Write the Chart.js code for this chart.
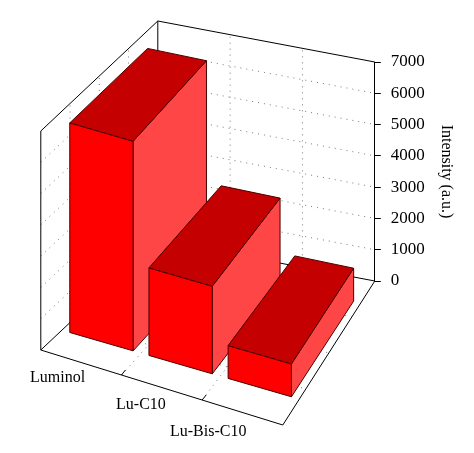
<!DOCTYPE html>
<html>
<head>
<meta charset="utf-8">
<script src="https://cdn.jsdelivr.net/npm/chart.js@4"></script>
<style>
  body { margin: 0; background: #fff; }
</style>
</head>
<body>
<canvas id="chart" width="474" height="453"></canvas>
<script>
const categories = ['Luminol', 'Lu-C10', 'Lu-Bis-C10'];
const intensity = [6700, 2800, 1050];
const yTicksMax = 7000;
const yTickStep = 1000;

// floor corners relative to back-right corner (= chart area bottom-right)
const floorFront0 = [-334, 69];
const floorFront1 = [-92, 144];
const floorBack0 = [-217, -41];
const barDepth = [0.18, 0.85];

function project(ca, ys, u, w, v) {
  const bx = ca.right, by = ca.bottom;
  const f0 = [bx + floorFront0[0], by + floorFront0[1]];
  const f1 = [bx + floorFront1[0], by + floorFront1[1]];
  const b0 = [bx + floorBack0[0], by + floorBack0[1]];
  const b1 = [bx, by];
  const x = (1-u)*(1-w)*f0[0] + u*(1-w)*f1[0] + u*w*b1[0] + (1-u)*w*b0[0];
  const y = (1-u)*(1-w)*f0[1] + u*(1-w)*f1[1] + u*w*b1[1] + (1-u)*w*b0[1];
  return [x, y - (ys.bottom - ys.getPixelForValue(v))];
}

function poly(ctx, pts, fill, stroke) {
  ctx.beginPath();
  ctx.moveTo(pts[0][0], pts[0][1]);
  for (let i = 1; i < pts.length; i++) ctx.lineTo(pts[i][0], pts[i][1]);
  ctx.closePath();
  if (fill) { ctx.fillStyle = fill; ctx.fill(); }
  if (stroke) { ctx.strokeStyle = stroke; ctx.stroke(); }
}

function line(ctx, a, b) {
  ctx.beginPath();
  ctx.moveTo(a[0], a[1]);
  ctx.lineTo(b[0], b[1]);
  ctx.stroke();
}

const box3d = {
  id: 'box3d',
  beforeDatasetsDraw(chart) {
    const ctx = chart.ctx, ca = chart.chartArea, ys = chart.scales.y;
    const P = (u, w, v) => project(ca, ys, u, w, v);
    ctx.save();
    // dotted grid
    ctx.strokeStyle = '#777';
    ctx.lineWidth = 1;
    ctx.setLineDash([1, 5]);
    for (let v = yTickStep; v <= yTicksMax - yTickStep; v += yTickStep) {
      line(ctx, P(0, 1, v), P(1, 1, v));
      line(ctx, P(0, 0, v), P(0, 1, v));
    }
    const n = categories.length;
    for (let i = 1; i < n; i++) {
      const u = i / n;
      line(ctx, P(u, 1, 0), P(u, 1, yTicksMax));
      line(ctx, P(u, 0, 0), P(u, 1, 0));
    }
    for (const w of [0.25, 0.5, 0.75]) {
      line(ctx, P(0, w, 0), P(0, w, yTicksMax));
      line(ctx, P(0, w, 0), P(1, w, 0));
    }
    // solid frame
    ctx.setLineDash([]);
    ctx.strokeStyle = '#000';
    line(ctx, P(0, 0, 0), P(1, 0, 0));
    line(ctx, P(1, 0, 0), P(1, 1, 0));
    line(ctx, P(0, 1, 0), P(1, 1, 0));
    line(ctx, P(0, 0, 0), P(0, 1, 0));
    line(ctx, P(0, 0, 0), P(0, 0, yTicksMax));
    line(ctx, P(0, 1, 0), P(0, 1, yTicksMax));
    line(ctx, P(0, 0, yTicksMax), P(0, 1, yTicksMax));
    line(ctx, P(0, 1, yTicksMax), P(1, 1, yTicksMax));
    for (let i = 1; i < n; i++) {
      const a = P(i / n, 0, 0);
      line(ctx, a, [a[0] + 4, a[1] - 5]);
    }
    // bars
    ctx.lineWidth = 1;
    intensity.forEach((val, i) => {
      const u0 = (i + 0.1) / n, u1 = (i + 0.9) / n;
      const [w0, w1] = barDepth;
      const edge = '#4a0000';
      poly(ctx, [P(u1, w0, 0), P(u1, w1, 0), P(u1, w1, val), P(u1, w0, val)], '#ff4646', edge);
      poly(ctx, [P(u0, w0, 0), P(u1, w0, 0), P(u1, w0, val), P(u0, w0, val)], '#ff0000', edge);
      poly(ctx, [P(u0, w0, val), P(u1, w0, val), P(u1, w1, val), P(u0, w1, val)], '#c40000', edge);
    });
    // category labels
    ctx.fillStyle = '#000';
    ctx.font = '16px "Liberation Serif"';
    ctx.textAlign = 'right';
    ctx.textBaseline = 'middle';
    categories.forEach((c, i) => {
      const p = P((i + 0.5) / n, 0, 0);
      ctx.fillText(c, p[0] + 4, p[1] + 15 + 2 * i);
    });
    ctx.restore();
  }
};

new Chart(document.getElementById('chart'), {
  type: 'bar',
  data: {
    labels: categories,
    datasets: [{ data: intensity, backgroundColor: 'rgba(0,0,0,0)' }]
  },
  options: {
    responsive: false,
    animation: false,
    layout: { padding: { top: 62, right: 16, bottom: 172, left: 10 } },
    plugins: { legend: { display: false }, tooltip: { enabled: false } },
    scales: {
      x: { display: false },
      y: {
        position: 'right',
        min: 0,
        max: yTicksMax,
        ticks: { stepSize: yTickStep, color: '#000', padding: 10, callback: v => String(v), font: { family: 'Liberation Serif', size: 17 } },
        grid: { drawOnChartArea: false, color: '#000', tickLength: 6 },
        border: { color: '#000' },
        title: { display: true, text: 'Intensity (a.u.)', color: '#000', padding: 2, font: { family: 'Liberation Serif', size: 16 } }
      }
    }
  },
  plugins: [box3d]
});
</script>
</body>
</html>
